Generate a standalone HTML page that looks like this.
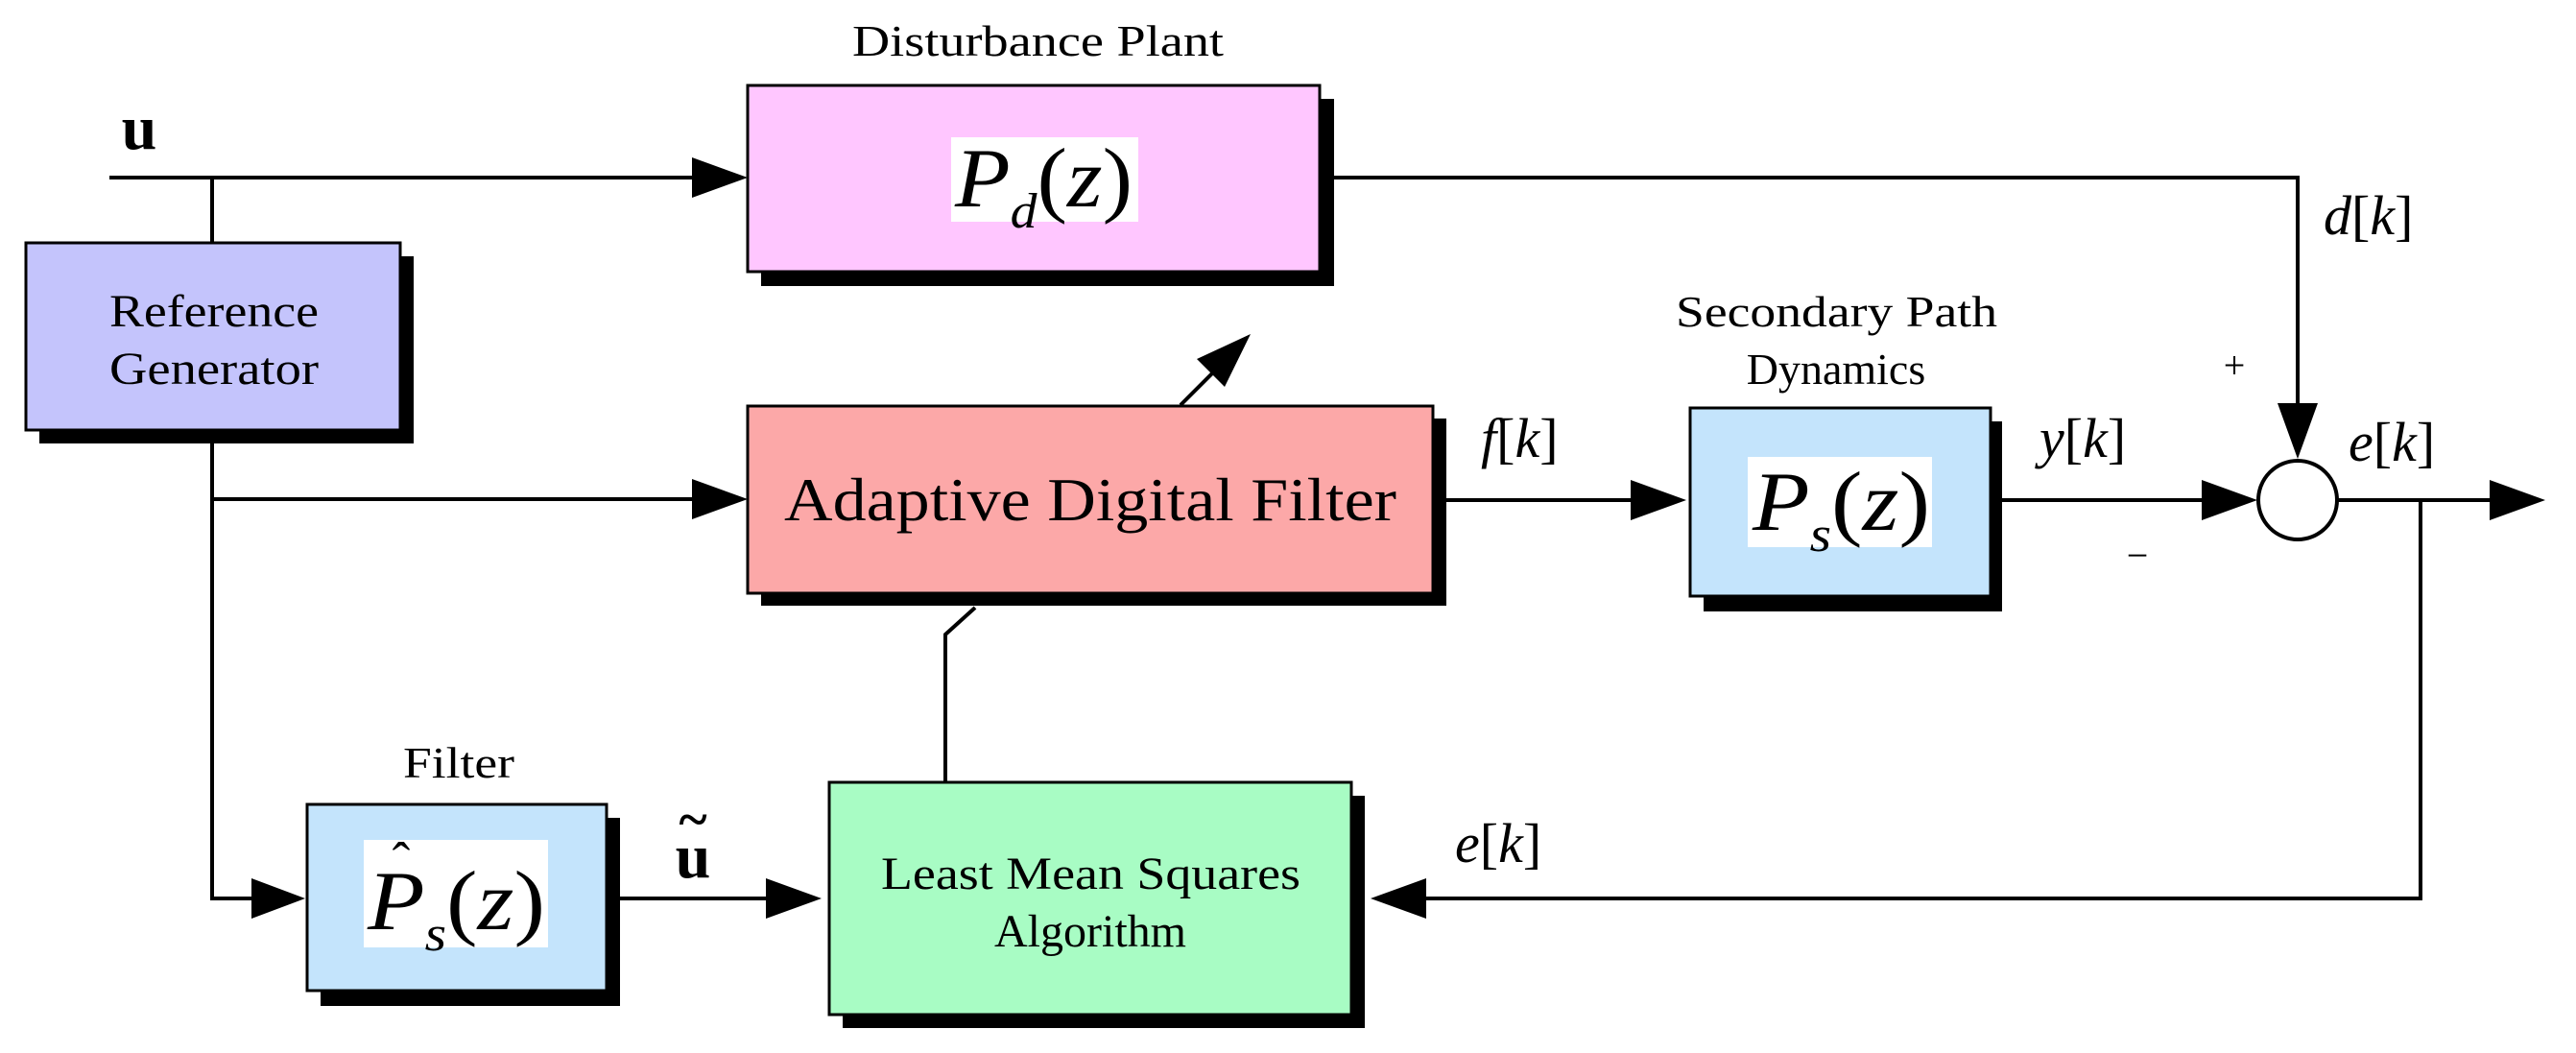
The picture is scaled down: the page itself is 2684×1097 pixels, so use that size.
<!DOCTYPE html>
<html><head><meta charset="utf-8"><style>
html,body{margin:0;padding:0;background:#fff;}
svg{display:block;}
text{font-family:"Liberation Serif",serif;fill:#000;}
</style></head><body>
<svg width="2684" height="1097" viewBox="0 0 2684 1097" xmlns="http://www.w3.org/2000/svg">
<!-- shadows -->
<rect x="41" y="267" width="390" height="195" fill="#000"/>
<rect x="793" y="103" width="597" height="195" fill="#000"/>
<rect x="793" y="436" width="714" height="195" fill="#000"/>
<rect x="1775" y="439" width="311" height="198" fill="#000"/>
<rect x="334" y="852" width="312" height="196" fill="#000"/>
<rect x="878" y="829" width="544" height="242" fill="#000"/>
<!-- boxes -->
<rect x="27" y="253" width="390" height="195" fill="#c4c4fc" stroke="#000" stroke-width="3"/>
<rect x="779" y="89" width="596" height="194" fill="#ffc6ff" stroke="#000" stroke-width="3"/>
<rect x="779" y="423" width="714" height="195" fill="#fca8a8" stroke="#000" stroke-width="3"/>
<rect x="1761" y="425" width="313" height="196" fill="#c4e4fc" stroke="#000" stroke-width="3"/>
<rect x="320" y="838" width="312" height="194" fill="#c4e4fc" stroke="#000" stroke-width="3"/>
<rect x="864" y="815" width="544" height="242" fill="#a8fcc4" stroke="#000" stroke-width="3"/>
<!-- white label rects -->
<rect x="991" y="143" width="195" height="88" fill="#fff"/>
<rect x="1821" y="476" width="192" height="94" fill="#fff"/>
<rect x="379" y="875" width="192" height="112" fill="#fff"/>
<!-- lines -->
<g stroke="#000" stroke-width="4" fill="none">
<path d="M114 185 H725"/>
<path d="M221 185 V253"/>
<path d="M221 448 V936 H265"/>
<path d="M221 520 H725"/>
<path d="M1390 185 H2394 V420"/>
<path d="M1507 521 H1700"/>
<path d="M2086 521 H2295"/>
<path d="M2435 521 H2595"/>
<path d="M2522 521 V936 H1485"/>
<path d="M632 936 H800"/>
<path d="M985 815 V661 L1016 633"/>
<path d="M1230 422 L1280 372"/>
</g>
<circle cx="2394" cy="521" r="41" fill="#fff" stroke="#000" stroke-width="4"/>
<!-- arrowheads -->
<g fill="#000">
<polygon points="779,185 721,164 721,206"/>
<polygon points="779,520 721,499 721,541"/>
<polygon points="318,936 262,915 262,957"/>
<polygon points="856,936 798,915 798,957"/>
<polygon points="1757,521 1699,500 1699,542"/>
<polygon points="2352,521 2294,500 2294,542"/>
<polygon points="2652,521 2594,500 2594,542"/>
<polygon points="1428,936 1486,915 1486,957"/>
<polygon points="2394,478 2373,420 2415,420"/>
<polygon points="1303,348 1247,374 1276,403"/>
</g>
<!-- text -->
<text x="145" y="155" font-size="66" font-weight="bold" text-anchor="middle">u</text>
<text x="888" y="58" font-size="46" textLength="387" lengthAdjust="spacingAndGlyphs">Disturbance Plant</text>
<text x="114" y="340" font-size="48" textLength="218" lengthAdjust="spacingAndGlyphs">Reference</text>
<text x="114" y="400" font-size="48" textLength="218" lengthAdjust="spacingAndGlyphs">Generator</text>
<text x="995" y="215" font-size="88" font-style="italic" textLength="185" lengthAdjust="spacingAndGlyphs">P<tspan font-size="52" dy="22">d</tspan><tspan font-style="normal" dy="-22">(</tspan>z<tspan font-style="normal">)</tspan></text>
<text x="817" y="542" font-size="64" textLength="638" lengthAdjust="spacingAndGlyphs">Adaptive Digital Filter</text>
<text x="1746" y="340" font-size="46" textLength="335" lengthAdjust="spacingAndGlyphs">Secondary Path</text>
<text x="1913" y="400" font-size="46" text-anchor="middle">Dynamics</text>
<text x="1826" y="552" font-size="88" font-style="italic" textLength="185" lengthAdjust="spacingAndGlyphs">P<tspan font-size="52" dy="22">s</tspan><tspan font-style="normal" dy="-22">(</tspan>z<tspan font-style="normal">)</tspan></text>
<text x="420" y="810" font-size="46" textLength="116" lengthAdjust="spacingAndGlyphs">Filter</text>
<text x="383" y="968" font-size="88" font-style="italic" textLength="185" lengthAdjust="spacingAndGlyphs">P<tspan font-size="52" dy="22">s</tspan><tspan font-style="normal" dy="-22">(</tspan>z<tspan font-style="normal">)</tspan></text>
<text x="418" y="916" font-size="56" text-anchor="middle">ˆ</text>
<text x="722" y="914" font-size="66" font-weight="bold" text-anchor="middle">u</text>
<text x="722" y="872" font-size="56" font-weight="bold" text-anchor="middle">~</text>
<text x="918" y="926" font-size="48" textLength="437" lengthAdjust="spacingAndGlyphs">Least Mean Squares</text>
<text x="1136" y="986" font-size="48" text-anchor="middle">Algorithm</text>
<text x="1543" y="476" font-size="58" font-style="italic">f<tspan font-style="normal">[</tspan>k<tspan font-style="normal">]</tspan></text>
<text x="2125" y="476" font-size="58" font-style="italic">y<tspan font-style="normal">[</tspan>k<tspan font-style="normal">]</tspan></text>
<text x="2421" y="244" font-size="58" font-style="italic">d<tspan font-style="normal">[</tspan>k<tspan font-style="normal">]</tspan></text>
<text x="2447" y="480" font-size="58" font-style="italic">e<tspan font-style="normal">[</tspan>k<tspan font-style="normal">]</tspan></text>
<text x="1516" y="898" font-size="58" font-style="italic">e<tspan font-style="normal">[</tspan>k<tspan font-style="normal">]</tspan></text>
<text x="2328" y="394" font-size="40" text-anchor="middle">+</text>
<text x="2227" y="592" font-size="40" text-anchor="middle">−</text>
</svg>
</body></html>
